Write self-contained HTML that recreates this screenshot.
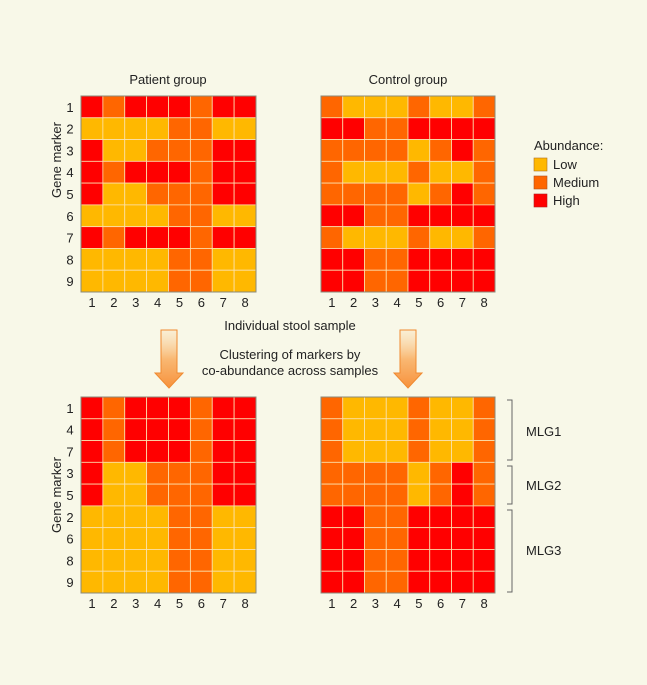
<!DOCTYPE html>
<html><head><meta charset="utf-8"><style>
html,body{margin:0;padding:0;background:#f8f8e8;}
svg{display:block;font-family:"Liberation Sans",sans-serif;}
</style></head><body>
<svg id="fig" width="647" height="685" viewBox="0 0 647 685">
<defs>
<linearGradient id="ag" x1="0" y1="0" x2="0" y2="1">
<stop offset="0" stop-color="#fbd9a8" stop-opacity="0.3"/>
<stop offset="0.5" stop-color="#f9b873"/>
<stop offset="1" stop-color="#f7923c"/>
</linearGradient>
</defs>
<rect width="647" height="685" fill="#f8f8e8"/>
<text x="168" y="84" font-size="13" text-anchor="middle" fill="#222">Patient group</text>
<text x="408" y="84" font-size="13" text-anchor="middle" fill="#222">Control group</text>
<text x="290" y="330" font-size="13" text-anchor="middle" fill="#222">Individual stool sample</text>
<text x="290" y="359" font-size="13" text-anchor="middle" fill="#222">Clustering of markers by</text>
<text x="290" y="375" font-size="13" text-anchor="middle" fill="#222">co-abundance across samples</text>
<text transform="translate(61,160) rotate(-90)" font-size="13" text-anchor="middle" fill="#222">Gene marker</text>
<text transform="translate(61,495) rotate(-90)" font-size="13" text-anchor="middle" fill="#222">Gene marker</text>
<g>
<path d="M161,330 L177,330 L177,373 L183,373 L169,388 L155,373 L161,373 Z" fill="url(#ag)" stroke="#f08a30" stroke-width="1"/>
</g>
<g>
<path d="M400,330 L416,330 L416,373 L422,373 L408,388 L394,373 L400,373 Z" fill="url(#ag)" stroke="#f08a30" stroke-width="1"/>
</g>
<g>
<text x="534" y="150" font-size="13" fill="#222">Abundance:</text>
<rect x="534" y="158" width="13" height="13" fill="#ffb800" stroke="#b07020" stroke-width="0.6"/>
<text x="553" y="169" font-size="13" fill="#222">Low</text>
<rect x="534" y="176" width="13" height="13" fill="#ff6600" stroke="#b05020" stroke-width="0.6"/>
<text x="553" y="187" font-size="13" fill="#222">Medium</text>
<rect x="534" y="194" width="13" height="13" fill="#ff0000" stroke="#b02020" stroke-width="0.6"/>
<text x="553" y="205" font-size="13" fill="#222">High</text>
</g>
<g>
<path d="M507,400 H512 V460 H507" fill="none" stroke="#666" stroke-width="1"/>
<text x="526" y="436" font-size="13" fill="#222">MLG1</text>
<path d="M507,466 H512 V504 H507" fill="none" stroke="#666" stroke-width="1"/>
<text x="526" y="490" font-size="13" fill="#222">MLG2</text>
<path d="M507,510 H512 V592 H507" fill="none" stroke="#666" stroke-width="1"/>
<text x="526" y="555" font-size="13" fill="#222">MLG3</text>
</g>
<g id="heatmaps"></g>
</svg>
<script>
// 0 = Low, 1 = Medium, 2 = High
const samples = [1,2,3,4,5,6,7,8];
const markers = [1,2,3,4,5,6,7,8,9];
const clusteredOrder = [1,4,7,3,5,2,6,8,9];
const patientValues = [
 [2,1,2,2,2,1,2,2],
 [0,0,0,0,1,1,0,0],
 [2,0,0,1,1,1,2,2],
 [2,1,2,2,2,1,2,2],
 [2,0,0,1,1,1,2,2],
 [0,0,0,0,1,1,0,0],
 [2,1,2,2,2,1,2,2],
 [0,0,0,0,1,1,0,0],
 [0,0,0,0,1,1,0,0]
];
const controlValues = [
 [1,0,0,0,1,0,0,1],
 [2,2,1,1,2,2,2,2],
 [1,1,1,1,0,1,2,1],
 [1,0,0,0,1,0,0,1],
 [1,1,1,1,0,1,2,1],
 [2,2,1,1,2,2,2,2],
 [1,0,0,0,1,0,0,1],
 [2,2,1,1,2,2,2,2],
 [2,2,1,1,2,2,2,2]
];
const levelColors = ['#ffb800','#ff6600','#ff0000'];

const NS='http://www.w3.org/2000/svg';
const root=document.getElementById('heatmaps');
function mk(tag,attrs,parent){const e=document.createElementNS(NS,tag);for(const k in attrs)e.setAttribute(k,attrs[k]);parent.appendChild(e);return e;}

function drawHeatmap(name,x0,y0,w,h,values,rowOrder,showRowLabels){
  const g=mk('g',{},root);
  
  
  const cw=w/samples.length, ch=h/rowOrder.length;
  const xs=i=>x0+i*cw, ys=j=>y0+j*ch;
  rowOrder.forEach((m,j)=>{
    const row=values[markers.indexOf(m)];
    samples.forEach((s,i)=>{
      const r=mk('rect',{x:xs(i),y:ys(j),width:cw,height:ch,fill:levelColors[row[i]],stroke:'#fbe3b0','stroke-width':0.8},g);
      
      
    });
    if(showRowLabels){
      const t=mk('text',{x:x0-11,y:ys(j)+ch/2+5,'font-size':13,'text-anchor':'middle',fill:'#222'},g);
      t.textContent=m;
      
      
    }
  });
  const b=mk('rect',{x:x0,y:y0,width:w,height:h,fill:'none',stroke:'#8a8a7a','stroke-width':1},g);
  
  
  samples.forEach((s,i)=>{
    const t=mk('text',{x:xs(i)+cw/2,y:y0+h+15,'font-size':13,'text-anchor':'middle',fill:'#222'},g);
    t.textContent=s;
    
    
  });
}
drawHeatmap('patient-heatmap-raw',81,96,175,196,patientValues,markers,true);
drawHeatmap('control-heatmap-raw',321,96,174,196,controlValues,markers,false);
drawHeatmap('patient-heatmap-clustered',81,397,175,196,patientValues,clusteredOrder,true);
drawHeatmap('control-heatmap-clustered',321,397,174,196,controlValues,clusteredOrder,false);
</script>
</body></html>
